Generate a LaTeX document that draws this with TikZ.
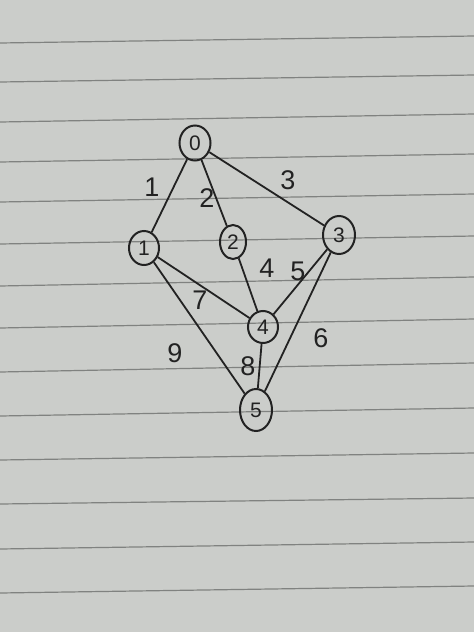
\documentclass[tikz,border=0pt]{standalone}
\usepackage{fontspec}
\setmainfont{Liberation Sans}
\usetikzlibrary{shapes.geometric}
\definecolor{paper}{HTML}{CBCDCA}
\definecolor{rule}{HTML}{808280}
\definecolor{ink}{HTML}{222222}
\begin{document}
\begin{tikzpicture}[x=1pt,y=-1pt,
  vertex/.style={ellipse,draw=ink,line width=2pt,inner sep=0pt,text=ink,font=\fontsize{21}{21}\selectfont},
  edge/.style={draw=ink,line width=1.8pt},
  wlabel/.style={text=ink,font=\fontsize{27}{27}\selectfont,inner sep=0pt},
  paperline/.style={draw=rule,line width=1.2pt}]
\fill[paper] (0,0) rectangle (474,632);
\useasboundingbox (0,0) rectangle (474,632);
% ruled lines
\foreach \l/\r in {43/36,82/75,122/114,162/154,202/194,244/236,286/277,328/319,372/363,416/408,460/453,504/498,549/542,593/586}
  \draw[paperline] (0,\l) -- (474,\r);
% vertices
\node[vertex,minimum width=31pt,minimum height=35pt] (n0) at (195,143) {0};
\node[vertex,minimum width=30pt,minimum height=34pt] (n1) at (144,248) {1};
\node[vertex,minimum width=26pt,minimum height=34pt] (n2) at (233,242) {2};
\node[vertex,minimum width=32pt,minimum height=38pt] (n3) at (339,235) {3};
\node[vertex,minimum width=30pt,minimum height=32pt] (n4) at (263,327) {4};
\node[vertex,minimum width=32pt,minimum height=42pt] (n5) at (256,410) {5};
% edges
\draw[edge] (n0) -- (n1);
\draw[edge] (n0) -- (n2);
\draw[edge] (n0) -- (n3);
\draw[edge] (n1) -- (n4);
\draw[edge] (n1) -- (n5);
\draw[edge] (n2) -- (n4);
\draw[edge] (n3) -- (n4);
\draw[edge] (n3) -- (n5);
\draw[edge] (n4) -- (n5);
% weights
\node[wlabel] (w1) at (152,187) {1};
\node[wlabel] (w2) at (207,198) {2};
\node[wlabel] (w3) at (288,180) {3};
\node[wlabel] (w4) at (267,268) {4};
\node[wlabel] (w5) at (298,271) {5};
\node[wlabel] (w7) at (200,300) {7};
\node[wlabel] (w9) at (175,353) {9};
\node[wlabel] (w8) at (248,366) {8};
\node[wlabel] (w6) at (321,338) {6};
\end{tikzpicture}
\end{document}
